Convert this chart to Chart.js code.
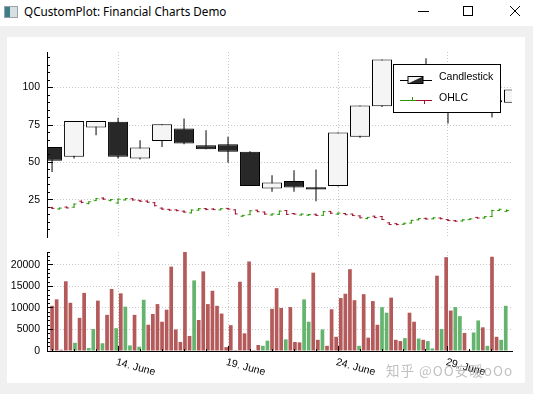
<!DOCTYPE html>
<html>
<head>
<meta charset="utf-8">
<title>QCustomPlot: Financial Charts Demo</title>
<script src="https://cdn.jsdelivr.net/npm/chart.js@4.4.1/dist/chart.umd.min.js"></script>
<style>
  html, body { margin: 0; padding: 0; }
  body { width: 533px; height: 394px; overflow: hidden; position: relative; background: #f0f0f0; }
  #titlebar { position: absolute; left: 0; top: 0; width: 533px; height: 26px; background: #fff; }
  #appicon { position: absolute; left: 4px; top: 6px; width: 12px; height: 10px; border: 1px solid #9aa4a8;
             background: linear-gradient(90deg, #3d7f88 0 45%, #d9e0e2 45% 100%); }
  #title { position: absolute; left: 24px; top: 4px; font: 11.7px "Noto Sans", "Liberation Sans", sans-serif;
           line-height: 14px; color: #000; white-space: nowrap; }
  #buttons { position: absolute; left: 0; top: 0; }
  #plotbg { position: absolute; left: 7px; top: 37px; width: 518px; height: 346px; background: #fff; }
  canvas { position: absolute; left: 0; }
  #priceChart { top: 38px; }
  #volumeChart { top: 242px; }
  #watermark { position: absolute; left: 386px; top: 363px; font: 13.5px "Noto Sans CJK SC", sans-serif;
               line-height: 14px; letter-spacing: 1px; color: rgba(140,140,140,0.55); white-space: nowrap; }
</style>
</head>
<body>
<div id="titlebar">
  <div id="appicon"></div>
  <div id="title">QCustomPlot: Financial Charts Demo</div>
  <svg id="buttons" width="533" height="26">
    <line x1="418" y1="11.5" x2="429" y2="11.5" stroke="#000" stroke-width="1"/>
    <rect x="463.5" y="6.5" width="9" height="9" fill="none" stroke="#000" stroke-width="1"/>
    <line x1="510" y1="6" x2="520" y2="16" stroke="#000" stroke-width="1"/>
    <line x1="520" y1="6" x2="510" y2="16" stroke="#000" stroke-width="1"/>
  </svg>
</div>
<div id="plotbg"></div>
<canvas id="priceChart" width="533" height="204"></canvas>
<canvas id="volumeChart" width="533" height="152"></canvas>
<div id="watermark">知乎 @OO安暖oOo</div>
<script>
// days are June dates, 31 = 1. July, 32 = 2. July
const candleDays  = [11, 12, 13, 14, 15, 16, 17, 18, 19, 20, 21, 22, 23, 24, 25, 26, 27, 28, 29, 30, 31, 32];
const candleOpen  = [60.4, 53.8, 73.3, 77.1, 52.6, 64.4, 72.7, 61.5, 62.2, 57.1, 32.7, 37.7, 33.5, 34.4, 67.1, 87.5, 114, 104, 112, 87, 91.5, 89.8];
const candleHigh  = [60.4, 77.7, 77.7, 79.8, 64.9, 75.5, 79.3, 71.5, 67.1, 57.5, 41.5, 44.9, 45.3, 70.0, 88.0, 118.7, 115.5, 119.5, 113, 99, 100, 98.7];
const candleLow   = [43.7, 52.6, 68.2, 52.6, 52.0, 60.4, 62.2, 58.9, 49.8, 34.4, 30.4, 30.4, 24.2, 34.0, 66.5, 87.0, 101, 102, 76, 84, 80, 89.8];
const candleClose = [51.1, 77.7, 77.7, 53.8, 60.0, 75.5, 62.7, 58.9, 57.1, 34.4, 36.7, 33.3, 32.0, 70.0, 88.0, 118.7, 104, 113, 86, 95, 90.2, 98.7];

// ohlc bars, one every 8 hours from 11. June
const ohlcStartDay = 11;
const ohlcStepDays = 1 / 3;
const ohlcOpen  = [20.0, 19.0, 20.3, 20.2, 24.2, 22.6, 24.6, 26.3, 24.6, 23.0, 25.0, 25.8, 24.8, 24.3, 23.2, 19.6,
                   18.8, 18.4, 17.6, 16.4, 18.2, 19.3, 19.0, 18.4, 19.4, 18.4, 14.2, 15.2, 18.2, 17.0, 15.0, 15.4,
                   18.0, 16.0, 15.0, 14.9, 15.5, 14.8, 17.4, 15.6, 16.0, 15.6, 14.4, 12.6, 14.2, 14.0, 9.8, 9.2,
                   8.8, 9.6, 11.8, 12.8, 12.4, 13.0, 12.0, 11.2, 11.0, 11.9, 13.4, 13.0, 14.0, 18.0, 17.4];
const ohlcHigh  = [20.4, 19.9, 20.7, 22.6, 24.6, 24.0, 26.2, 26.7, 25.6, 26.0, 26.2, 26.1, 25.0, 24.6, 23.6, 19.9,
                   19.0, 18.7, 17.9, 18.6, 19.6, 19.6, 19.4, 19.5, 19.7, 18.6, 15.0, 18.2, 18.4, 17.2, 16.0, 18.0,
                   18.3, 16.3, 16.0, 15.6, 15.8, 17.6, 17.6, 16.6, 16.3, 15.8, 14.7, 13.6, 14.5, 14.2, 10.1, 9.4,
                   9.8, 11.8, 12.9, 13.1, 13.4, 13.3, 12.2, 11.5, 12.1, 12.8, 13.7, 14.2, 18.4, 19.2, 18.8];
const ohlcLow   = [19.0, 18.6, 19.4, 20.0, 22.8, 22.2, 24.4, 25.2, 24.2, 22.4, 24.8, 24.6, 23.6, 23.2, 20.8, 18.4,
                   17.8, 17.5, 16.5, 16.2, 17.9, 18.2, 18.3, 18.1, 18.6, 15.4, 13.6, 15.0, 16.9, 15.2, 14.6, 15.2,
                   15.0, 15.3, 14.7, 14.3, 14.4, 14.6, 15.8, 15.2, 14.9, 14.3, 12.8, 12.2, 13.0, 11.6, 8.3, 8.2,
                   8.5, 9.4, 11.5, 12.0, 12.1, 12.2, 10.9, 10.5, 10.8, 11.6, 12.6, 12.7, 13.8, 17.8, 17.2];
const ohlcClose = [19.4, 19.6, 19.7, 22.3, 23.4, 23.8, 25.9, 25.6, 25.3, 25.6, 25.9, 25.0, 24.2, 23.6, 21.2, 18.9,
                   18.3, 17.9, 16.9, 18.3, 19.2, 18.7, 18.6, 19.2, 18.9, 15.7, 14.8, 17.8, 17.2, 15.6, 15.7, 17.6,
                   15.4, 15.6, 15.6, 15.3, 14.7, 17.2, 16.2, 16.3, 15.2, 14.6, 13.1, 13.4, 13.3, 12.0, 8.6, 8.6,
                   9.5, 11.4, 12.6, 12.3, 13.1, 12.5, 11.3, 10.9, 11.8, 12.4, 13.0, 13.9, 18.0, 18.8, 18.0];

// volume, one bar every 5 hours from 11. June; > 0 green, < 0 red
const volumeStartDay = 11;
const volumeStepDays = 5 / 24;
const volumeSigned = [
  -10500, -12000, -300, -16200, -11200, 1900, -7700, -13500, 700, 5100,
  -11700, 1800, -8400, -14400, 5300, -13400, 10300, 1300, -8400, 1000,
  11900, -6100, -8600, -10900, -6800, -9600, -19600, -5000, -2100, -23100,
  -3500, 16400, -7200, -18500, -10900, -14000, -10500, -8700, -900, -6000,
  -200, -16100, -4100, -20800, -200, -1400, 1200, 2400, -9800, -14600,
  -10000, 2700, -10200, -2100, -2000, 12000, 6800, -18200, -2600, 5000,
  -1200, -9700, -3300, -12300, -13300, -19000, -11800, 1200, -13200, -3100,
  -11600, -6100, 10200, 8900, -12400, -2600, -2300, 3000, -8900, -6800,
  2900, -2600, 2300, 600, -17500, 5100, -21800, -9400, 10200, 8100,
  -4200, -200, 4300, 7100, -5500, 1200, -21900, -3300, 2600, 10500
];

const dateTicks   = [14, 19, 24, 29];
const priceTicks  = [25, 50, 75, 100];
const volumeTicks = [0, 5000, 10000, 15000, 20000];

const xMin = 10.77, xMax = 31.91;

const candleUp = 'rgb(245,245,245)', candleDown = 'rgb(40,40,40)';
const ohlcUp = 'rgb(40,150,0)', ohlcDown = 'rgb(160,15,45)';
const volUp = 'rgb(100,180,110)', volDown = 'rgb(180,90,90)';
const gridColor = 'rgb(200,200,200)';
const fontFamily = '"Liberation Sans", Arial, sans-serif';

Chart.defaults.font.family = fontFamily;
Chart.defaults.font.size = 10.5;
Chart.defaults.color = '#000';

const ohlcDays = ohlcOpen.map((_, i) => ohlcStartDay + i * ohlcStepDays);
const ohlcRising = i => ohlcClose[i] >= ohlcOpen[i];

function dayLabel(d) {
  return d > 30 ? (d - 30) + '. July' : d + '. June';
}

function fixTicks(values) {
  return scale => { scale.ticks = values.map(v => ({ value: v })); };
}

function fixWidth(w) {
  return scale => { scale.width = w; scale.paddingTop = 0; scale.paddingBottom = 0; };
}

// little open / close flag of an ohlc bar, used as point style
function flag(color, side) {
  const c = document.createElement('canvas');
  c.width = 7;
  c.height = 3;
  const g = c.getContext('2d');
  g.strokeStyle = color;
  g.lineWidth = 1;
  g.beginPath();
  if (side < 0) { g.moveTo(1.3, 1.5); g.lineTo(4, 1.5); }
  else { g.moveTo(3, 1.5); g.lineTo(5.7, 1.5); }
  g.stroke();
  return c;
}
const openFlags = { up: flag(ohlcUp, -1), down: flag(ohlcDown, -1) };
const closeFlags = { up: flag(ohlcUp, 1), down: flag(ohlcDown, 1) };

// qcustomplot style ticks pointing into the plot, with sub ticks
function innerTicks(specs) {
  return {
    id: 'innerTicks',
    afterDraw(chart) {
      const ctx = chart.ctx, area = chart.chartArea;
      ctx.save();
      ctx.strokeStyle = '#000';
      ctx.lineWidth = 1;
      specs.forEach(spec => {
        const scale = chart.scales[spec.axis];
        const start = Math.ceil((scale.min - spec.origin) / spec.minor - 1e-9);
        const end = Math.floor((scale.max - spec.origin) / spec.minor + 1e-9);
        for (let k = start; k <= end; k++) {
          const len = k % spec.every === 0 ? 5 : 2;
          const p = Math.round(scale.getPixelForValue(spec.origin + k * spec.minor) - 0.5) + 0.5;
          ctx.beginPath();
          if (spec.axis === 'x') {
            ctx.moveTo(p, area.bottom);
            ctx.lineTo(p, area.bottom - len);
          } else {
            ctx.moveTo(area.left, p);
            ctx.lineTo(area.left + len + 1, p);
          }
          ctx.stroke();
        }
      });
      ctx.restore();
    }
  };
}

const financeLegend = {
  id: 'financeLegend',
  afterDraw(chart) {
    const ctx = chart.ctx, ca = chart.chartArea;
    const right = Math.round(ca.right) - 11.5, left = right - 107;
    const top = Math.round(ca.top) + 12.5, h = 48;
    ctx.save();
    ctx.fillStyle = '#fff';
    ctx.fillRect(left, top, right - left, h);
    ctx.strokeStyle = '#000';
    ctx.lineWidth = 1;
    ctx.strokeRect(left, top, right - left, h);

    const ix = left + 6.5;
    // candlestick icon
    const cy1 = top + 16;
    ctx.beginPath();
    ctx.moveTo(ix, cy1);
    ctx.lineTo(ix + 32, cy1);
    ctx.stroke();
    const bx = ix + 8, by = cy1 - 4, bw = 15, bh = 7;
    ctx.fillStyle = candleUp;
    ctx.fillRect(bx, by, bw, bh);
    ctx.fillStyle = candleDown;
    ctx.beginPath();
    ctx.moveTo(bx + bw, by);
    ctx.lineTo(bx + bw, by + bh);
    ctx.lineTo(bx, by + bh);
    ctx.closePath();
    ctx.fill();
    ctx.strokeRect(bx, by, bw, bh);

    // ohlc icon
    const cy2 = top + 36;
    ctx.strokeStyle = ohlcUp;
    ctx.beginPath();
    ctx.moveTo(ix, cy2);
    ctx.lineTo(ix + 16, cy2);
    ctx.moveTo(Math.round(ix + 12) + 0.5, cy2 - 3.5);
    ctx.lineTo(Math.round(ix + 12) + 0.5, cy2);
    ctx.stroke();
    ctx.strokeStyle = ohlcDown;
    ctx.beginPath();
    ctx.moveTo(ix + 16, cy2);
    ctx.lineTo(ix + 32, cy2);
    ctx.moveTo(Math.round(ix + 24) + 0.5, cy2);
    ctx.lineTo(Math.round(ix + 24) + 0.5, cy2 + 3.5);
    ctx.stroke();

    ctx.fillStyle = '#000';
    ctx.font = '10.5px ' + fontFamily;
    ctx.textBaseline = 'alphabetic';
    ctx.fillText(chart.data.datasets[1].label, left + 45.5, top + 15.2);
    ctx.fillText(chart.data.datasets[2].label, left + 45.5, top + 36.2);
    ctx.restore();
  }
};

const dateLabels = {
  id: 'dateLabels',
  afterDraw(chart) {
    const s = chart.scales.x, ctx = chart.ctx;
    ctx.save();
    ctx.font = '10.5px ' + fontFamily;
    ctx.fillStyle = '#000';
    ctx.textBaseline = 'top';
    ctx.textAlign = 'left';
    s.ticks.forEach(t => {
      ctx.save();
      ctx.translate(s.getPixelForValue(t.value) - 0.5, chart.chartArea.bottom + 6);
      ctx.rotate(15 * Math.PI / 180);
      ctx.fillText(dayLabel(t.value), 0, 0);
      ctx.restore();
    });
    ctx.restore();
  }
};

const common = {
  responsive: false,
  devicePixelRatio: 1,
  animation: false,
  events: [],
  plugins: { legend: { display: false }, tooltip: { enabled: false } }
};

function xAxis(height, showLine) {
  return {
    type: 'linear', min: xMin, max: xMax, bounds: 'data', offset: false,
    afterBuildTicks: fixTicks(dateTicks),
    afterFit: s => { s.height = height; },
    grid: { color: gridColor, drawTicks: false, offset: false },
    border: { display: showLine, color: '#000', dash: [1, 2], z: 1 },
    ticks: { display: false }
  };
}

function yAxis(min, max, ticks) {
  return {
    type: 'linear', min: min, max: max, bounds: 'data',
    afterBuildTicks: fixTicks(ticks),
    afterFit: fixWidth(47),
    grid: { color: gridColor, drawTicks: false },
    border: { color: '#000', dash: [1, 2], z: 1 },
    ticks: { padding: 7, callback: v => String(v) }
  };
}

new Chart(document.getElementById('priceChart'), {
  type: 'bar',
  data: {
    datasets: [
      {
        label: 'Candlestick wick',
        data: candleDays.map((d, i) => ({ x: d, y: [candleLow[i], candleHigh[i]] })),
        backgroundColor: '#000',
        barThickness: 1, inflateAmount: 0, grouped: false, clip: 0, order: 3
      },
      {
        label: 'Candlestick',
        data: candleDays.map((d, i) => ({ x: d, y: [candleOpen[i], candleClose[i]] })),
        backgroundColor: c => candleClose[c.dataIndex] >= candleOpen[c.dataIndex] ? candleUp : candleDown,
        borderColor: '#000', borderWidth: 1, borderSkipped: false,
        barThickness: 20, inflateAmount: 0, grouped: false, clip: 0, order: 2
      },
      {
        label: 'OHLC',
        data: ohlcDays.map((d, i) => ({ x: d, y: [ohlcLow[i], ohlcHigh[i]] })),
        backgroundColor: c => ohlcRising(c.dataIndex) ? ohlcUp : ohlcDown,
        barThickness: 1, inflateAmount: 0, grouped: false, clip: 0, order: 1
      },
      {
        type: 'line',
        label: 'OHLC open',
        data: ohlcDays.map((d, i) => ({ x: d, y: ohlcOpen[i] })),
        showLine: false, pointRadius: 3, clip: 0, order: 0,
        pointStyle: c => ohlcRising(c.dataIndex) ? openFlags.up : openFlags.down
      },
      {
        type: 'line',
        label: 'OHLC close',
        data: ohlcDays.map((d, i) => ({ x: d, y: ohlcClose[i] })),
        showLine: false, pointRadius: 3, clip: 0, order: 0,
        pointStyle: c => ohlcRising(c.dataIndex) ? closeFlags.up : closeFlags.down
      }
    ]
  },
  options: Object.assign({}, common, {
    layout: { padding: { top: 14, right: 21, bottom: 5, left: 0 } },
    scales: {
      x: xAxis(0, false),
      y: yAxis(0.3, 123.7, priceTicks)
    }
  }),
  plugins: [innerTicks([{ axis: 'y', origin: 0, minor: 5, every: 5 }]), financeLegend]
});

new Chart(document.getElementById('volumeChart'), {
  type: 'bar',
  data: {
    datasets: [{
      label: 'Volume',
      data: volumeSigned.map((v, i) => ({ x: volumeStartDay + i * volumeStepDays, y: Math.abs(v) })),
      backgroundColor: c => volumeSigned[c.dataIndex] >= 0 ? volUp : volDown,
      barThickness: 3.7, inflateAmount: 0, grouped: false, clip: 0
    }]
  },
  options: Object.assign({}, common, {
    layout: { padding: { top: 10, right: 21, bottom: 0, left: 0 } },
    scales: {
      x: xAxis(43, true),
      y: yAxis(0, 23000, volumeTicks)
    }
  }),
  plugins: [innerTicks([
    { axis: 'y', origin: 0, minor: 1000, every: 5 },
    { axis: 'x', origin: 14, minor: 1, every: 5 }
  ]), dateLabels]
});
</script>
</body>
</html>
